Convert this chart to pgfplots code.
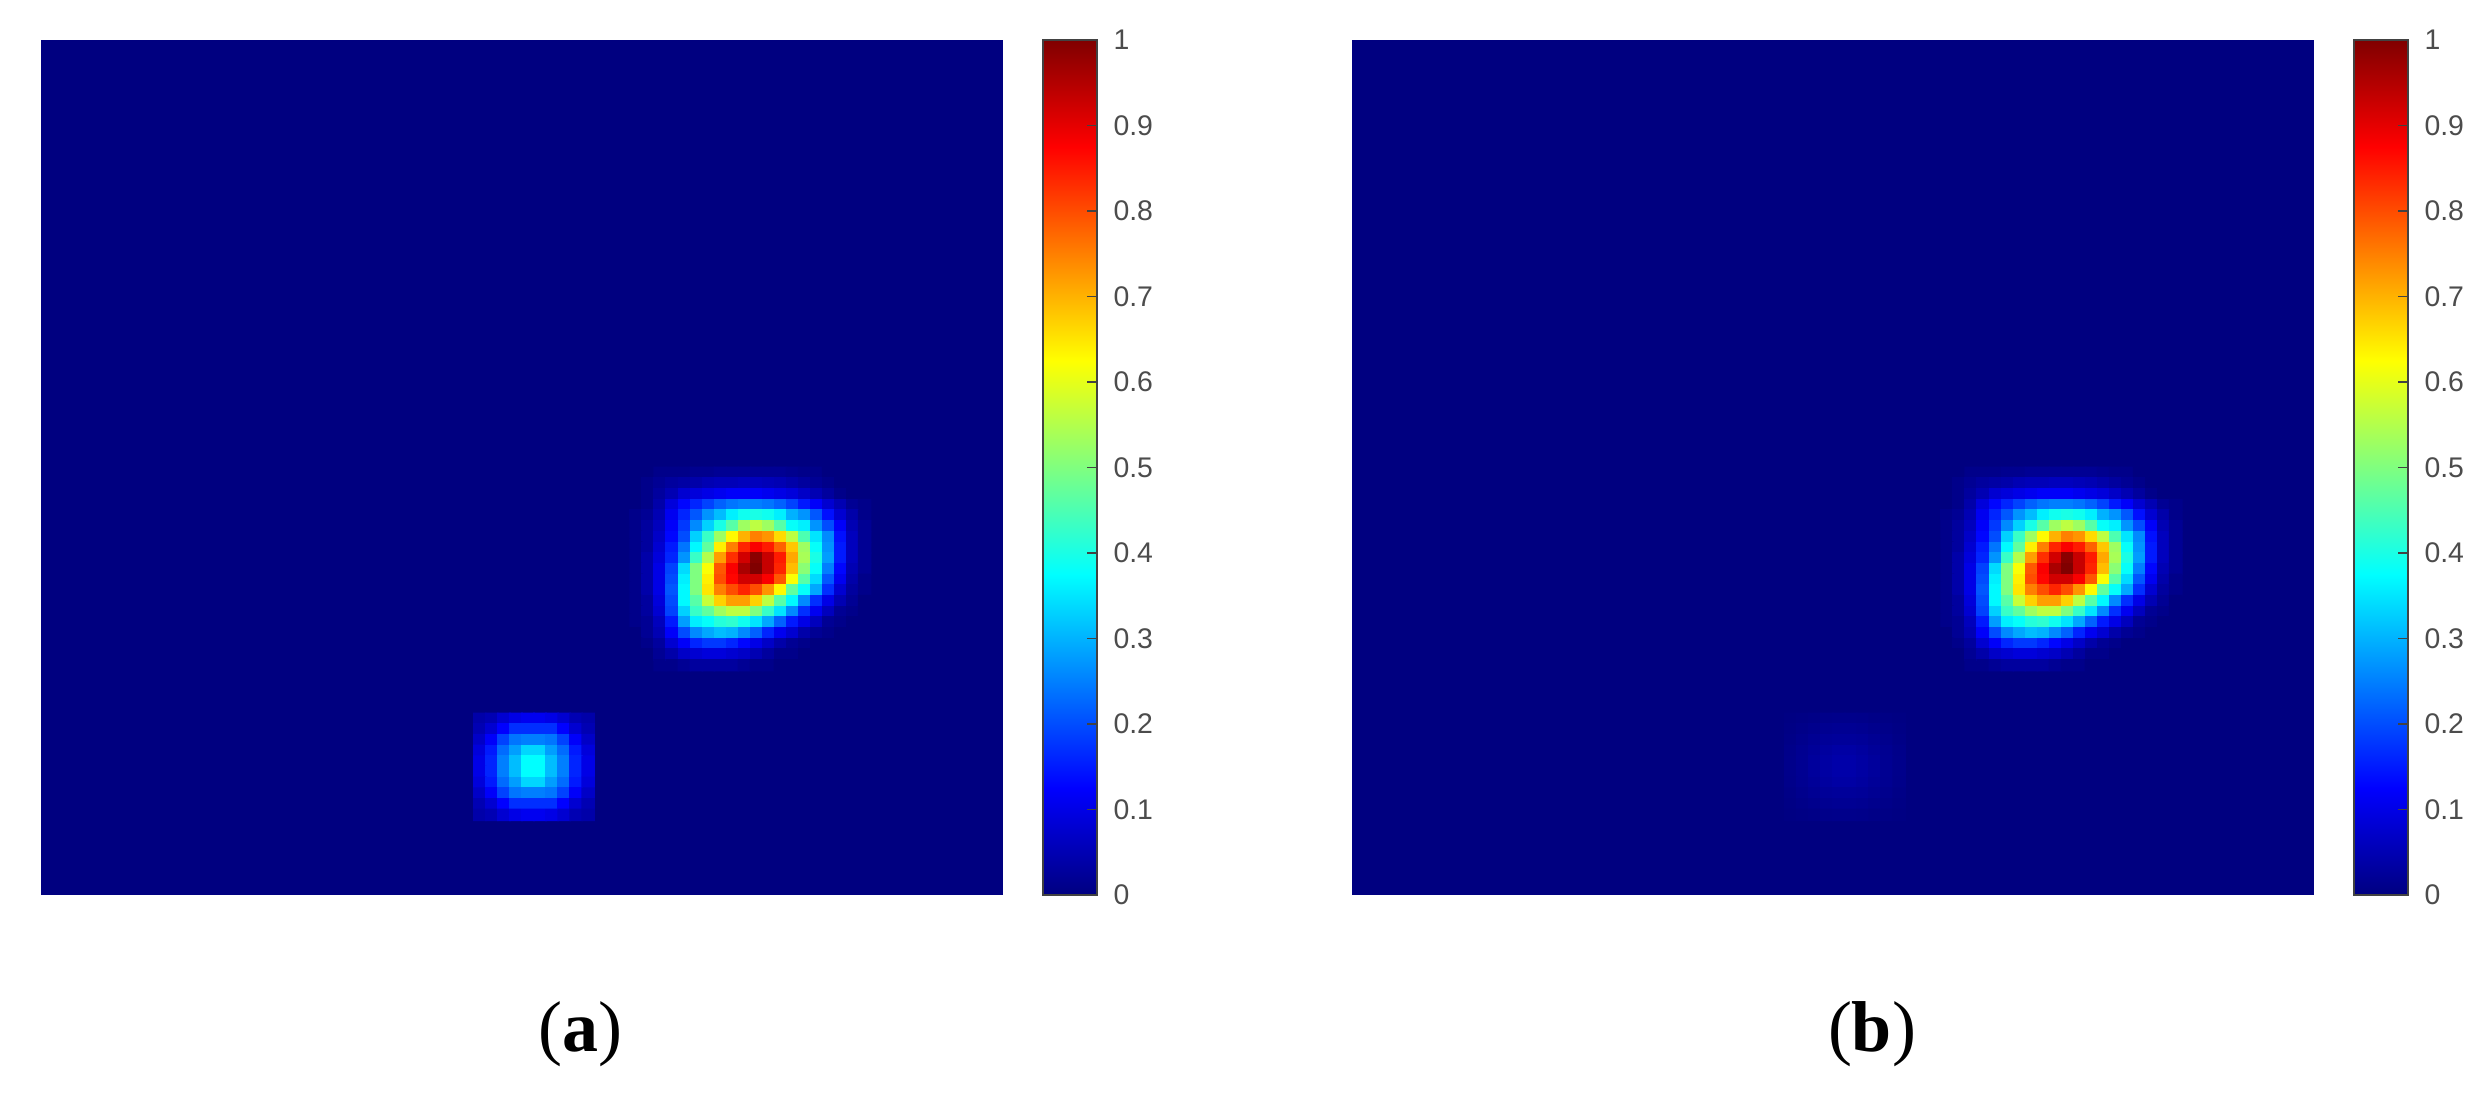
\documentclass[border=0pt]{standalone}
\usepackage{pgfplots}
\usepackage{pgfplotstable}
\pgfplotsset{compat=1.18}
\usepackage{fontspec}
\setmainfont{Liberation Sans}
\newfontfamily\capfont{Liberation Serif}
\definecolor{jetzero}{RGB}{0,0,128}
\definecolor{cbline}{gray}{0.26}
\definecolor{cbtext}{gray}{0.3}
% large peak: cols 48..68, rows 40..58, row by row
\pgfplotstableread[row sep=\\]{z\\
0\\0\\0\\.01\\.01\\.01\\.015\\.015\\.02\\.02\\.02\\.02\\.02\\.02\\.015\\.01\\.01\\0\\0\\0\\0\\
0\\0\\.01\\.02\\.03\\.035\\.04\\.05\\.055\\.055\\.06\\.06\\.055\\.05\\.04\\.03\\.02\\.01\\0\\0\\0\\
0\\0\\.01\\.03\\.05\\.08\\.09\\.10\\.11\\.12\\.12\\.12\\.11\\.10\\.09\\.07\\.05\\.03\\.01\\0\\0\\
0\\0\\.01\\.04\\.09\\.13\\.16\\.19\\.22\\.24\\.25\\.25\\.24\\.22\\.19\\.15\\.12\\.08\\.05\\.02\\.01\\
0\\.01\\.02\\.05\\.11\\.16\\.21\\.27\\.31\\.36\\.39\\.40\\.39\\.36\\.30\\.27\\.21\\.14\\.08\\.04\\.01\\
0\\.01\\.03\\.06\\.12\\.18\\.26\\.33\\.40\\.46\\.53\\.56\\.53\\.46\\.38\\.36\\.27\\.20\\.12\\.05\\.02\\
0\\.01\\.03\\.07\\.13\\.20\\.33\\.43\\.53\\.63\\.70\\.75\\.73\\.66\\.56\\.45\\.35\\.26\\.14\\.06\\.02\\
0\\.01\\.03\\.08\\.15\\.24\\.37\\.47\\.64\\.75\\.84\\.88\\.85\\.78\\.68\\.53\\.38\\.27\\.15\\.06\\.02\\
0\\.01\\.04\\.09\\.16\\.27\\.43\\.55\\.72\\.83\\.92\\.99\\.93\\.85\\.71\\.54\\.40\\.28\\.15\\.06\\.02\\
0\\.01\\.04\\.10\\.19\\.34\\.50\\.62\\.79\\.88\\.96\\1\\.93\\.84\\.69\\.51\\.38\\.25\\.13\\.05\\.02\\
0\\.01\\.04\\.10\\.20\\.36\\.50\\.64\\.80\\.87\\.92\\.92\\.88\\.79\\.62\\.46\\.34\\.21\\.11\\.04\\.01\\
0\\.01\\.04\\.10\\.21\\.37\\.50\\.65\\.75\\.80\\.84\\.80\\.73\\.63\\.47\\.38\\.29\\.17\\.08\\.03\\.01\\
0\\.01\\.03\\.09\\.20\\.37\\.46\\.57\\.67\\.72\\.72\\.67\\.56\\.46\\.37\\.26\\.17\\.10\\.05\\.02\\0\\
0\\.01\\.03\\.08\\.19\\.33\\.43\\.47\\.53\\.56\\.56\\.50\\.43\\.35\\.26\\.17\\.11\\.06\\.02\\.01\\0\\
0\\.01\\.02\\.06\\.15\\.28\\.36\\.38\\.41\\.42\\.39\\.35\\.29\\.22\\.15\\.10\\.06\\.02\\.01\\0\\0\\
0\\0\\.02\\.05\\.12\\.20\\.26\\.29\\.31\\.30\\.26\\.22\\.16\\.11\\.08\\.04\\.02\\.01\\0\\0\\0\\
0\\0\\.01\\.03\\.08\\.12\\.16\\.18\\.18\\.16\\.13\\.10\\.07\\.04\\.02\\.01\\0\\0\\0\\0\\0\\
0\\0\\0\\.02\\.04\\.07\\.08\\.09\\.09\\.08\\.07\\.05\\.03\\.01\\.01\\0\\0\\0\\0\\0\\0\\
0\\0\\0\\.01\\.01\\.02\\.03\\.03\\.03\\.03\\.02\\.01\\.01\\0\\0\\0\\0\\0\\0\\0\\0\\
}\bigpeak
% small peak of panel (a): cols 36..45, rows 63..72
\pgfplotstableread[row sep=\\]{z\\
.04\\.05\\.08\\.10\\.11\\.11\\.10\\.08\\.05\\.04\\
.05\\.08\\.125\\.17\\.17\\.17\\.17\\.125\\.08\\.05\\
.07\\.12\\.19\\.24\\.25\\.25\\.24\\.19\\.12\\.07\\
.09\\.15\\.23\\.28\\.335\\.335\\.28\\.23\\.15\\.09\\
.10\\.16\\.25\\.31\\.375\\.375\\.31\\.25\\.16\\.10\\
.10\\.16\\.25\\.31\\.375\\.375\\.31\\.25\\.16\\.10\\
.09\\.15\\.23\\.28\\.335\\.335\\.28\\.23\\.15\\.09\\
.07\\.12\\.19\\.24\\.25\\.25\\.24\\.19\\.12\\.07\\
.05\\.08\\.125\\.17\\.17\\.17\\.17\\.125\\.08\\.05\\
.04\\.05\\.08\\.10\\.11\\.11\\.10\\.08\\.05\\.04\\
}\smallpeak
% faint residue of panel (b): cols 36..45, rows 63..72
\pgfplotstableread[row sep=\\]{z\\
.003\\.005\\.007\\.01\\.011\\.011\\.01\\.007\\.005\\.003\\
.005\\.009\\.013\\.017\\.019\\.019\\.017\\.013\\.009\\.005\\
.007\\.013\\.019\\.024\\.026\\.026\\.024\\.019\\.013\\.007\\
.01\\.017\\.024\\.031\\.035\\.035\\.031\\.024\\.017\\.01\\
.011\\.018\\.028\\.034\\.04\\.04\\.034\\.028\\.018\\.011\\
.011\\.018\\.028\\.034\\.04\\.04\\.034\\.028\\.018\\.011\\
.01\\.017\\.024\\.031\\.035\\.035\\.031\\.024\\.017\\.01\\
.007\\.013\\.019\\.024\\.026\\.026\\.024\\.019\\.013\\.007\\
.005\\.009\\.013\\.017\\.019\\.019\\.017\\.013\\.009\\.005\\
.003\\.005\\.007\\.01\\.011\\.011\\.01\\.007\\.005\\.003\\
}\faintpeak
\pgfplotsset{
  heat/.style={
    scale only axis, width=240.5pt, height=213.75pt, anchor=south west,
    xmin=-0.5, xmax=79.5, ymin=-0.5, ymax=79.5, y dir=reverse,
    xtick=\empty, ytick=\empty, axis line style={draw=none},
    axis background/.style={fill=jetzero},
    colormap/jet, point meta min=0, point meta max=1,
    colorbar,
    colorbar style={
      at={(1.0416,0)}, anchor=south west,
      width=13.5pt, height=213.75pt,
      ytick={0,0.1,...,1},
      ytick pos=right, yticklabel pos=right, tick align=inside,
      major tick length=2.5pt,
      tick style={draw=cbline, line width=0.4pt},
      axis line style={draw=cbline, line width=0.6pt},
      y tick label style={font=\fontsize{7.1}{8}\selectfont, text=cbtext,
        /pgf/number format/assume math mode=true,
        /pgf/number format/fixed, /pgf/number format/precision=1},
      yticklabel shift=0.6pt,
    },
  },
  big/.style={matrix plot*, mesh/cols=21, point meta=explicit},
  small/.style={matrix plot*, mesh/cols=10, point meta=explicit},
}
\begin{document}
\begin{tikzpicture}
\path (0,0) rectangle (622pt,276.5pt);
\begin{axis}[heat, at={(10.25pt,52.75pt)}]
\addplot[big] table[x=z, y=z, x expr={48+mod(\coordindex,21)}, y expr={40+floor(\coordindex/21)}, meta=z] {\bigpeak};
\addplot[small] table[x=z, y=z, x expr={36+mod(\coordindex,10)}, y expr={63+floor(\coordindex/10)}, meta=z] {\smallpeak};
\end{axis}
\begin{axis}[heat, at={(338pt,52.75pt)}]
\addplot[big] table[x=z, y=z, x expr={48+mod(\coordindex,21)}, y expr={40+floor(\coordindex/21)}, meta=z] {\bigpeak};
\addplot[small] table[x=z, y=z, x expr={36+mod(\coordindex,10)}, y expr={63+floor(\coordindex/10)}, meta=z] {\faintpeak};
\end{axis}
\node[font=\capfont\fontsize{18}{20}\selectfont] at (145pt,18pt) {(\textbf{a})};
\node[font=\capfont\fontsize{18}{20}\selectfont] at (468pt,18pt) {(\textbf{b})};
\end{tikzpicture}
\end{document}
